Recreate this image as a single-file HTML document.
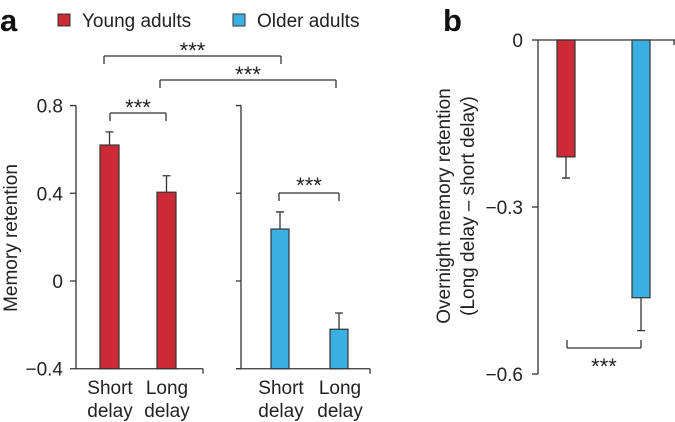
<!DOCTYPE html>
<html><head><meta charset="utf-8"><style>
html,body{margin:0;padding:0;background:#fff;}
svg{display:block;font-family:"Liberation Sans",Arial,sans-serif;}
</style></head><body>
<svg id="chart" width="675" height="422" viewBox="0 0 675 422">
</svg>
<script>
const groupsA = ["Young adults","Older adults"];
const categoriesA = ["Short delay","Long delay"];
const youngValues = [0.62, 0.405];
const youngErrors = [0.06, 0.075];
const olderValues = [0.237, -0.22];
const olderErrors = [0.078, 0.074];
const ticksA = [0.8, 0.4, 0, -0.4];
const tickLabelsA = ["0.8","0.4","0","\u22120.4"];
const valuesB = [-0.21, -0.463];
const errorsB = [0.038, 0.059];
const ticksB = [0, -0.3, -0.6];
const tickLabelsB = ["0","\u22120.3","\u22120.6"];

const RED="#cc2a36", BLUE="#3ab0e2";
const NS="http://www.w3.org/2000/svg";
const svg=document.getElementById('chart');
function mk(tag,attrs,parent,text){const e=document.createElementNS(NS,tag);for(const k in attrs)e.setAttribute(k,attrs[k]);if(text!==undefined)e.textContent=text;(parent||svg).appendChild(e);return e;}
const yA=v=>281-(v)*219.3;
const yB=v=>40-(v)*556.7;
const line=(x1,y1,x2,y2)=>`M${x1},${y1}L${x2},${y2}`;

let t=mk('text',{x:0,y:31,'font-size':31,'font-weight':'bold',fill:'#111'},svg,'a');


t=mk('text',{x:443,y:31,'font-size':31,'font-weight':'bold',fill:'#111'},svg,'b');



const legX=[58,233],legCol=[RED,BLUE];
groupsA.forEach((g,i)=>{
  let r=mk('rect',{x:legX[i],y:14,width:12,height:12,fill:legCol[i],stroke:'#333','stroke-width':1});
  
  
  let tx=mk('text',{x:legX[i]+24,y:27,'font-size':19,fill:'#222'},svg,g);
  
  
});

function path(d,name){const p=mk('path',{d:d,stroke:'#333','stroke-width':1.3,fill:'none'});
  
  
  return p;}
path(line(76,yA(0.8),76,yA(-0.4))+line(76,yA(-0.4),203,yA(-0.4))+line(203,yA(-0.4),203,yA(-0.4)+5),'y-axis-a-left');
path(line(241,yA(0.8),241,yA(-0.4))+line(236,yA(-0.4),370,yA(-0.4))+line(370,yA(-0.4),370,yA(-0.4)+5),'y-axis-a-right');
ticksA.forEach((v,i)=>{
  path(line(70,yA(v),76,yA(v))+line(236,yA(v),241,yA(v)),'y-tick-a');
  let tx=mk('text',{x:63,y:yA(v)+7,'font-size':19,'text-anchor':'end',fill:'#222'},svg,tickLabelsA[i]);
  
  
});
t=mk('text',{x:0,y:0,'font-size':19,'text-anchor':'middle',fill:'#222',transform:'translate(17,238) rotate(-90)'},svg,'Memory retention');



function bar(x,w,v,err,col,yf,name){
  const y0=yf===yA?yA(-0.4):yB(0);
  const yv=yf(v);
  const r=mk('rect',{x:x,y:Math.min(y0,yv),width:w,height:Math.abs(y0-yv),fill:col,stroke:'#333','stroke-width':1.2});
  
  
  const dir=yf===yA?1:-1;
  const ye=yf(v+dir*err);const cx=x+w/2;
  path(line(cx,yv,cx,ye)+line(cx-4,ye,cx+4,ye),name+'-error');
}
const xsYoung=[100,157], xsOlder=[271,330];
youngValues.forEach((v,i)=>bar(xsYoung[i],19,v,youngErrors[i],RED,yA,'bar-young-'+i));
olderValues.forEach((v,i)=>bar(xsOlder[i],18,v,olderErrors[i],BLUE,yA,'bar-older-'+i));

[[xsYoung,'young'],[xsOlder,'older']].forEach(([xs,g])=>{
  categoriesA.forEach((c,i)=>{
    c.split(' ').forEach((w,j)=>{
      let tx=mk('text',{x:xs[i]+10,y:394+j*23,'font-size':19,'text-anchor':'middle',fill:'#222'},svg,w);
      
      
    });
  });
});

function bracket(x1,x2,y,down,sy,name){
  path(line(x1,y+down,x1,y)+line(x1,y,x2,y)+line(x2,y,x2,y+down),name);
  let tx=mk('text',{x:(x1+x2)/2,y:sy,'font-size':22,'text-anchor':'middle',fill:'#222'},svg,'***');
  
  
}
bracket(104,281,56,8,58,'sig-bracket-short');
bracket(160,336,80,8,82,'sig-bracket-long');
bracket(110,166,113,8,115,'sig-bracket-young');
bracket(279,339,193,8,193,'sig-bracket-older');
bracket(567,641,348,-8,374,'sig-bracket-b');

path(line(538,yB(0),538,yB(-0.6))+line(538,yB(0),675,yB(0))+line(674,yB(0),674,yB(0)+5),'y-axis-b');
ticksB.forEach((v,i)=>{
  path(line(532,yB(v),538,yB(v)),'y-tick-b');
  let tx=mk('text',{x:523,y:yB(v)+7,'font-size':19,'text-anchor':'end',fill:'#222'},svg,tickLabelsB[i]);
  
  
});
t=mk('text',{x:0,y:0,'font-size':19,'text-anchor':'middle',fill:'#222',transform:'translate(450,206) rotate(-90)'},svg,'Overnight memory retention');


t=mk('text',{x:0,y:0,'font-size':19,'text-anchor':'middle',fill:'#222',transform:'translate(474,206) rotate(-90)'},svg,'(Long delay \u2013 short delay)');


const xsB=[557,632], colB=[RED,BLUE];
valuesB.forEach((v,i)=>bar(xsB[i],18,v,errorsB[i],colB[i],yB,'bar-b-'+i));
</script>
</body></html>
